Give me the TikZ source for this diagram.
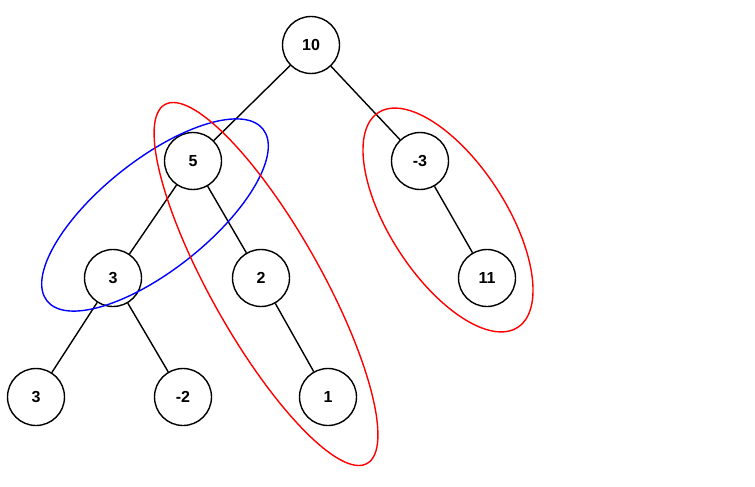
\documentclass[tikz,border=0pt]{standalone}
\usepackage{fontspec}
\setmainfont{Liberation Sans}
\begin{document}
\begin{tikzpicture}[x=1pt,y=-1pt,
  n/.style={circle,draw,line width=1.4pt,minimum size=57pt,inner sep=0pt,font=\bfseries\fontsize{16}{16}\selectfont},
  e/.style={line width=1.4pt}]
\useasboundingbox (0,0) rectangle (755,487);
\node[n] (a) at (311,45) {10};
\node[n] (b) at (193,161) {5};
\node[n] (c) at (420,161) {-3};
\node[n] (d) at (113,278) {3};
\node[n] (f) at (261,278) {2};
\node[n] (g) at (487,278) {11};
\node[n] (h) at (36,397) {3};
\node[n] (i) at (183,397) {-2};
\node[n] (j) at (328,397) {1};
\draw[e] (a)--(b); \draw[e] (a)--(c);
\draw[e] (b)--(d); \draw[e] (b)--(f);
\draw[e] (c)--(g);
\draw[e] (d)--(h); \draw[e] (d)--(i);
\draw[e] (f)--(j);
\draw[blue,line width=1.4pt,rotate around={38.5:(155,215)}] (155,215) ellipse [x radius=138, y radius=55];
\draw[red,line width=1.4pt,rotate around={-60.6:(266,284)}] (266,284) ellipse [x radius=206, y radius=55];
\draw[red,line width=1.4pt,rotate around={-57:(448,220)}] (448,220) ellipse [x radius=128, y radius=58];
\end{tikzpicture}
\end{document}
